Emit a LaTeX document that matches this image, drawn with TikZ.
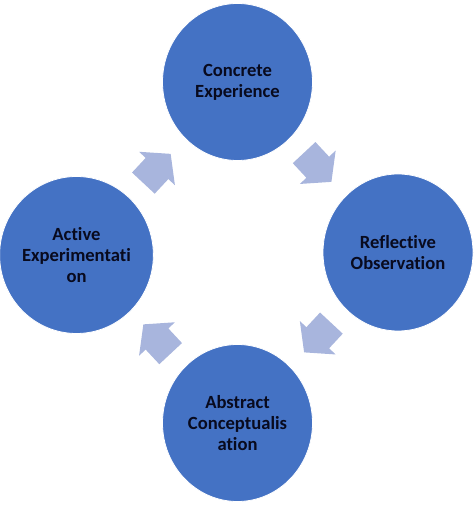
\documentclass[tikz,border=0pt]{standalone}
\usepackage{fontspec}
\setmainfont{Carlito}[Ligatures=NoCommon]
\usetikzlibrary{shapes.geometric}
\usetikzlibrary{calc}

\definecolor{stageblue}{RGB}{68,114,196}
\definecolor{arrowblue}{RGB}{168,181,221}
\definecolor{stagetext}{RGB}{8,10,30}

\tikzset{
    stage/.style={ellipse, fill=stageblue, draw=white, line width=0.8pt,
        minimum width=150pt, minimum height=157pt, inner sep=0pt,
        align=center, text=stagetext,
        font=\bfseries\fontsize{18.6}{20.8}\selectfont},
    cyclearrow/.style={fill=arrowblue}
}

\begin{document}
\begin{tikzpicture}[x=1pt, y=1pt]
            \useasboundingbox (0,0) rectangle (474,505);

            \node[stage] (concrete) at (237.5,423) {Concrete\\Experience};
            \node[stage] (reflective) at (398,252.5) {Reflective\\Observation};
            \node[stage] (abstract) at (237.5,82) {Abstract\\Conceptualis\\ation};
            \node[stage] (active) at (76.5,250) {Active\\Experimentati\\on};

            % Block arrows between the stages
            \foreach \a/\b/\ang in {active/concrete/47, concrete/reflective/-47,
                                    reflective/abstract/-133, abstract/active/133} {
                \begin{scope}[shift={($(\a)!0.5!(\b)$)}, rotate=\ang]
                    \fill[cyclearrow] (-20,-15.5) -- (0,-15.5) -- (0,-24.5) -- (20,0)
                        -- (0,24.5) -- (0,15.5) -- (-20,15.5) -- cycle;
                \end{scope}
            }
        \end{tikzpicture}
\end{document}
